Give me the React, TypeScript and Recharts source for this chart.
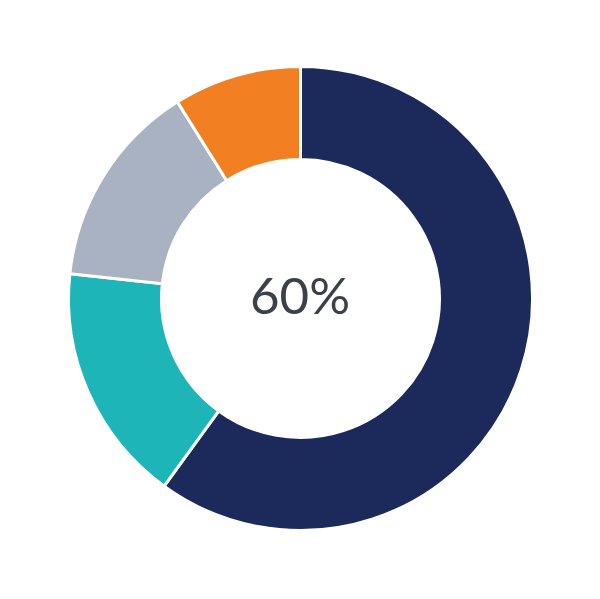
import { Cell, Label, Pie, PieChart } from "recharts";

const categories = ["Navy", "Teal", "Gray", "Orange"];
const values = [60, 16.7, 14.4, 8.9];
const colors = ["#1c2a5b", "#1eb5b8", "#a8b2c2", "#f27f22"];
const centerLabel = "60%";

const data = categories.map((name, i) => ({ name, value: values[i] }));

export default function App() {
  return (
    <div style={{ position: "absolute", left: 0, top: 0, width: 600, height: 599, background: "#fff" }}>
      <PieChart width={600} height={599} margin={{ top: 0, right: 0, bottom: 0, left: 0 }}>
        <Pie
          data={data}
          dataKey="value"
          nameKey="name"
          cx={300.5}
          cy={298.5}
          innerRadius={139}
          outerRadius={232}
          startAngle={90}
          endAngle={-270}
          stroke="#ffffff"
          strokeWidth={3}
          isAnimationActive={false}
        >
          {data.map((d, i) => (
            <Cell key={d.name} fill={colors[i]} />
          ))}
          <Label
            value={centerLabel}
            position="center"
            dy={-4}
            fill="#3b4049"
            style={{ fontFamily: "Lato, sans-serif", fontSize: 51, fontWeight: 400 }}
          />
        </Pie>
      </PieChart>
    </div>
  );
}
